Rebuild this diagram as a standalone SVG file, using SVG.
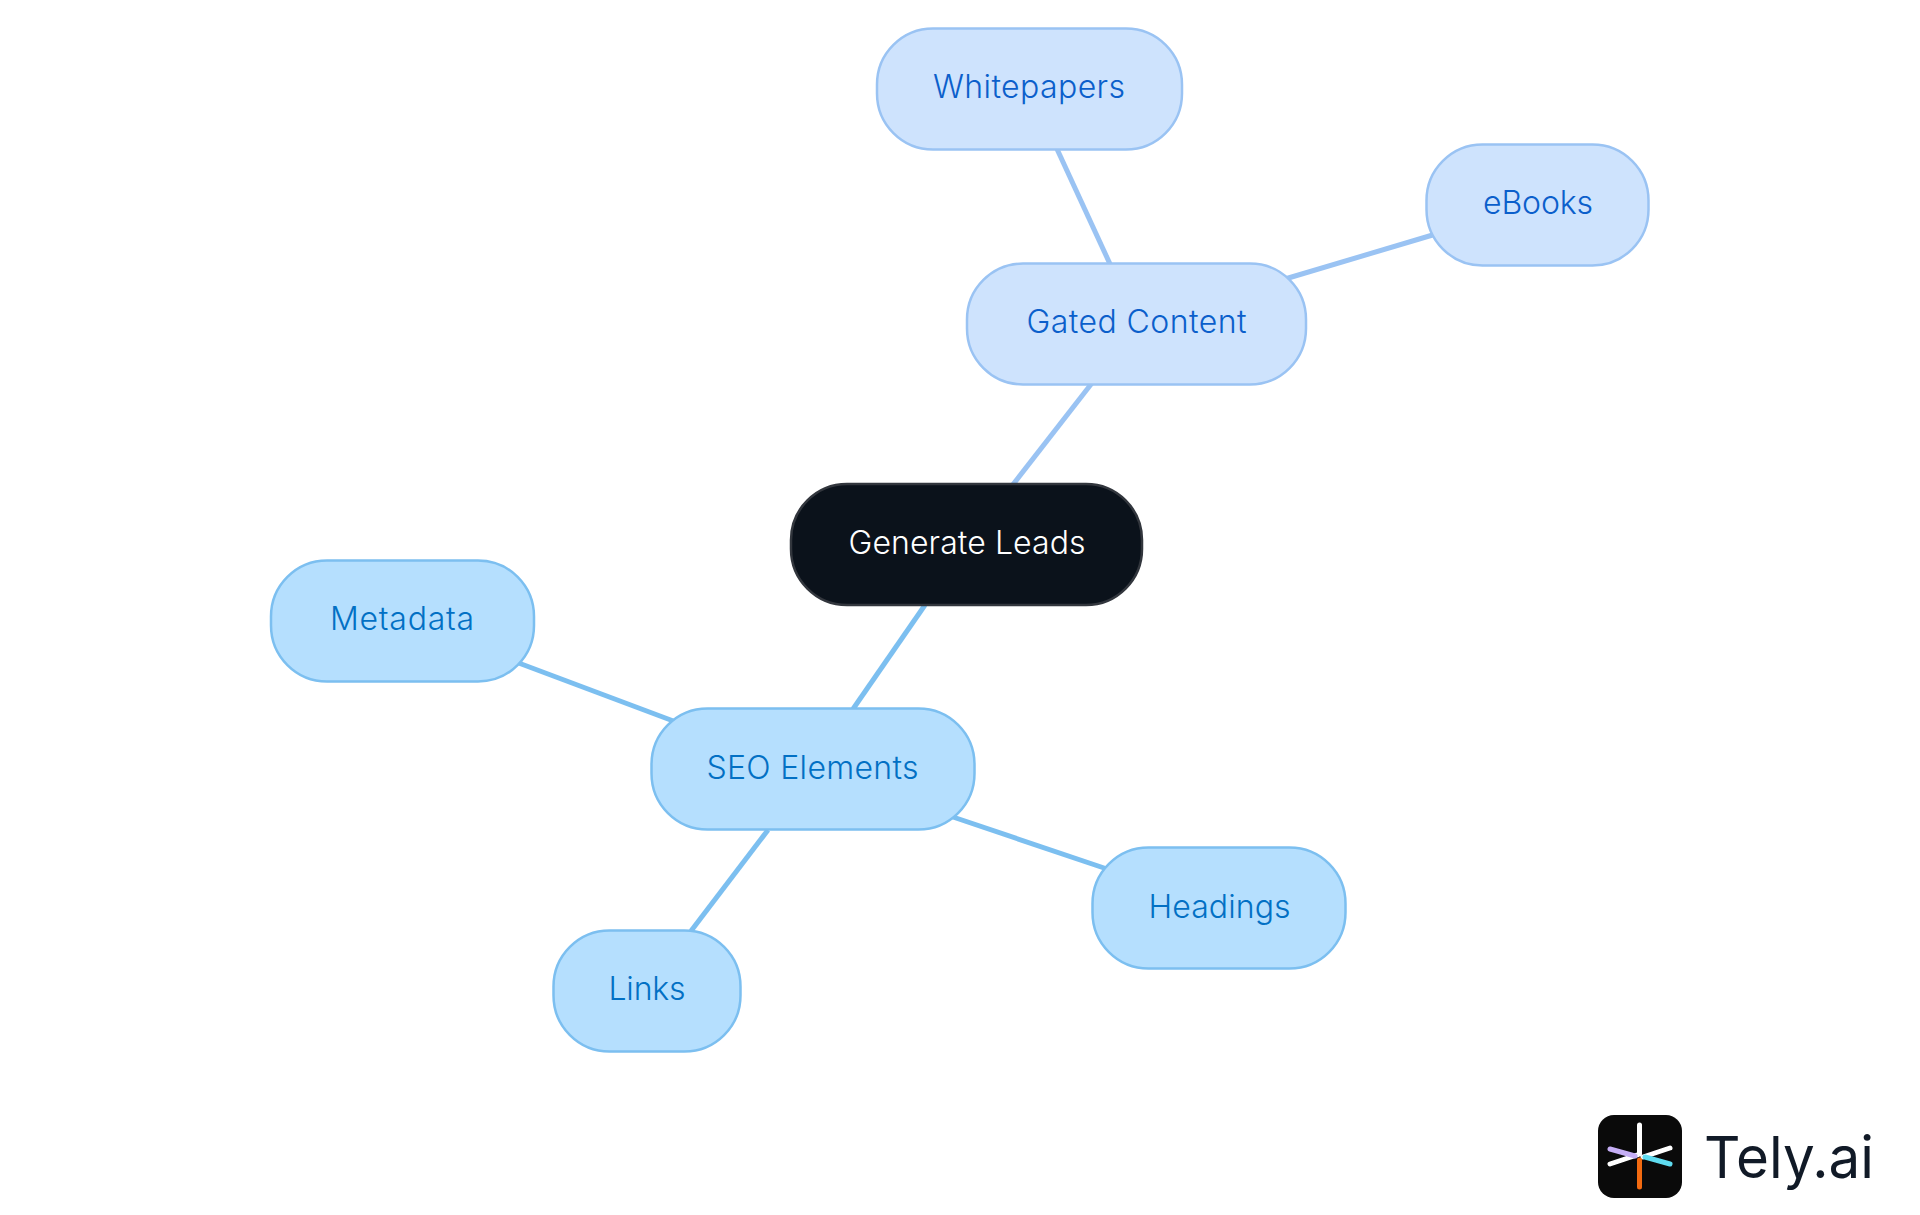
<svg xmlns="http://www.w3.org/2000/svg" width="1920" height="1215" viewBox="0 0 1920 1215">
<style>
.n{stroke-width:2.500}
.t{font-family:Inter,"Noto Sans",sans-serif;font-size:32px;text-anchor:middle;font-weight:350}
.a rect{fill:#cee3fd;stroke:#9ac3f3}
.a text{fill:#0b5fcb}
.b rect{fill:#b5dffe;stroke:#7cbff0}
.b text{fill:#0270c4}
.l{stroke-width:5;fill:none}
.la{stroke:#9ac3f3}
.lb{stroke:#7cbff0}
</style>
<rect width="1920" height="1215" fill="#fff"/>
<g id="connectors">
<line class="l la" x1="1011" y1="487" x2="1092" y2="383"/>
<line class="l la" x1="1110" y1="264" x2="1057" y2="149"/>
<line class="l la" x1="1285" y1="279" x2="1436" y2="234"/>
<line class="l lb" x1="925" y1="605" x2="853" y2="709"/>
<line class="l lb" x1="676" y1="722" x2="516" y2="662"/>
<line class="l lb" x1="950" y1="816" x2="1110" y2="870"/>
<line class="l lb" x1="768" y1="830" x2="691" y2="931"/>
</g>
<g id="node-root"><rect x="791" y="484" width="351" height="121" rx="56" fill="#0b121b" stroke="#32363d" stroke-width="2.500"/><text class="t" x="967" y="554" fill="#fff" textLength="237">Generate Leads</text></g>
<g id="node-gated" class="a"><rect class="n" x="967" y="263.500" width="339" height="121" rx="56"/><text class="t" x="1136.500" y="333" textLength="220">Gated Content</text></g>
<g id="node-whitepapers" class="a"><rect class="n" x="877" y="28.500" width="305" height="121" rx="56"/><text class="t" x="1029" y="98" textLength="192">Whitepapers</text></g>
<g id="node-ebooks" class="a"><rect class="n" x="1426.500" y="144.500" width="222" height="121" rx="56"/><text class="t" x="1538" y="214" textLength="110">eBooks</text></g>
<g id="node-seo" class="b"><rect class="n" x="651.500" y="708.500" width="323" height="121" rx="56"/><text class="t" x="812.500" y="779" textLength="212">SEO Elements</text></g>
<g id="node-metadata" class="b"><rect class="n" x="271" y="560.500" width="263" height="121" rx="56"/><text class="t" x="402" y="630" textLength="144">Metadata</text></g>
<g id="node-headings" class="b"><rect class="n" x="1092.500" y="847.500" width="253" height="121" rx="56"/><text class="t" x="1219.500" y="918" textLength="142">Headings</text></g>
<g id="node-links" class="b"><rect class="n" x="553.500" y="930.500" width="187" height="121" rx="56"/><text class="t" x="647" y="1000" textLength="77">Links</text></g>
<g id="logo">
<rect x="1598" y="1115" width="84" height="83" rx="16" fill="#0a0a0a"/>
<g stroke-width="5" stroke-linecap="round" fill="none">
<line x1="1639.500" y1="1125" x2="1639.500" y2="1154" stroke="#fff"/>
<line x1="1610" y1="1164" x2="1637" y2="1155" stroke="#fff"/>
<line x1="1670" y1="1148" x2="1643" y2="1157" stroke="#fff"/>
<line x1="1610" y1="1149" x2="1635" y2="1156" stroke="#c5aef5"/>
<line x1="1670" y1="1164" x2="1645" y2="1157" stroke="#5fdcf0"/>
<line x1="1639.500" y1="1160" x2="1639.500" y2="1187" stroke="#f36a10"/>
</g>
<text x="1704" y="1178" font-family="Inter,'Noto Sans',sans-serif" font-size="58" fill="#111a27" textLength="170" lengthAdjust="spacingAndGlyphs">Tely.ai</text>
</g>
</svg>
